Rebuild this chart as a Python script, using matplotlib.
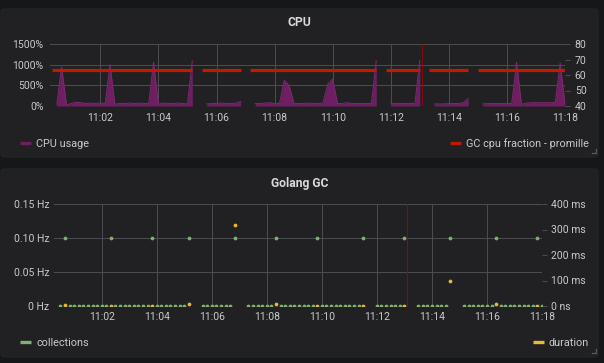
import matplotlib
matplotlib.use("Agg")
import matplotlib.pyplot as plt
from matplotlib.lines import Line2D
from matplotlib.patches import FancyBboxPatch
from matplotlib.transforms import IdentityTransform
import numpy as np

plt.rcParams['font.family'] = ['Roboto', 'DejaVu Sans']

# samples every 10 s, times as HH:MM:SS
cpu_starts = ["11:00:30", "11:05:40", "11:07:20", "11:12:00", "11:13:30", "11:15:10"]
cpu_usage = [
    [40, 950, 30, 60, 90, 80, 60, 70, 60, 70, 60, 1000, 40, 60, 60, 70, 60, 70, 60, 60,
     1060, 40, 70, 60, 60, 70, 60, 50, 1090],
    [50, 60, 60, 70, 60, 60, 70, 110],
    [60, 60, 70, 80, 60, 60, 620, 500, 60, 60, 60, 70, 60, 60, 70, 530, 650, 60, 60, 80,
     60, 60, 60, 60, 60, 1100],
    [70, 60, 60, 60, 60, 60, 1100],
    [50, 50, 50, 60, 60, 60, 80, 180],
    [50, 60, 60, 60, 60, 60, 60, 1060, 40, 70, 80, 80, 80, 80, 80, 90, 1040, 60],
]

gc_frac_starts = ["11:00:20", "11:05:30", "11:07:10", "11:11:50", "11:13:20", "11:15:00"]
gc_frac_ends = ["11:05:10", "11:06:50", "11:11:30", "11:13:00", "11:14:40", "11:18:00"]
gc_fraction = [63, 63, 63, 63, 63, 63]  # promille

gc_times = ["11:00:40", "11:02:20", "11:03:50", "11:05:10", "11:06:50", "11:08:20",
            "11:09:50", "11:11:30", "11:13:00", "11:14:40", "11:16:20", "11:17:50"]
gc_rate = 0.10  # Hz
gc_duration_ms = [4, 1, 1, 7, 318, 8, 1, 1, 1, 98, 7, 1]

annotation_time = "11:13:05"

xticks = [2, 4, 6, 8, 10, 12, 14, 16, 18]
xtick_labels = ["11:02", "11:04", "11:06", "11:08", "11:10", "11:12", "11:14", "11:16", "11:18"]
cpu_ticks = [0, 500, 1000, 1500]
cpu_labels = ["0%", "500%", "1000%", "1500%"]
frac_ticks = [40, 50, 60, 70, 80]
hz_ticks = [0, 0.05, 0.10, 0.15]
hz_labels = ["0 Hz", "0.05 Hz", "0.10 Hz", "0.15 Hz"]
ms_ticks = [0, 100, 200, 300, 400]
ms_labels = ["0 ns", "100 ms", "200 ms", "300 ms", "400 ms"]

PURPLE = '#6d1f62'
RED = '#bf1b00'
GREEN = '#7eb26d'
YELLOW = '#eab839'
GRID = '#4c4c50'
TXT = '#c8c9cb'
ANNO = '#8c0a0a'
W, H = 604, 363


def mins(s):
    h, m, sec = [int(v) for v in s.split(":")]
    return (h - 11) * 60 + m + sec / 60.0


def px_axes(l, t, r, b):
    return fig.add_axes([l / W, 1 - b / H, (r - l) / W, (b - t) / H])


def style(ax, ax2, lpad, rpad, xpad):
    for a in (ax, ax2):
        a.set_facecolor('none')
        for sp in a.spines.values():
            sp.set_visible(False)
    ax.grid(True, color=GRID, lw=0.75)
    ax.set_axisbelow(True)
    ax.set_xticks(xticks)
    ax.set_xticklabels(xtick_labels)
    ax.set_xlim(mins("11:00:16"), 18)
    ax.tick_params(axis='x', length=0, pad=xpad, labelsize=7.5, labelcolor=TXT)
    ax.tick_params(axis='y', length=0, pad=lpad, labelsize=7.5, labelcolor=TXT)
    ax2.tick_params(axis='y', length=3.6, width=0.75, color=GRID, pad=rpad,
                    labelsize=7.5, labelcolor=TXT)


fig = plt.figure(figsize=(W / 100, H / 100), dpi=100)
fig.patch.set_facecolor('#161719')

# panels
for top, bot in [(9, 157), (169, 357)]:
    fig.patches.append(FancyBboxPatch((1, H - bot), 597, bot - top,
                                      boxstyle="round,pad=0,rounding_size=3",
                                      fc='#212124', ec='#262628', lw=0.8, zorder=-10,
                                      transform=IdentityTransform(), figure=fig))
    fig.add_artist(Line2D([592, 596, 596], [H - bot + 4, H - bot + 4, H - bot + 8],
                          color='#5a5a5e', lw=0.9, transform=IdentityTransform()))

fig.text(299.5 / W, 1 - 22.5 / H, "CPU", ha='center', va='center', fontsize=8.7,
         fontweight='semibold', color='#d8d9da')
fig.text(299.5 / W, 1 - 183 / H, "Golang GC", ha='center', va='center', fontsize=8.7,
         fontweight='semibold', color='#d8d9da')

# CPU panel
ax = px_axes(50, 44, 565, 106)
ax2 = ax.twinx()
for start, vals in zip(cpu_starts, cpu_usage):
    t = mins(start) + np.arange(len(vals)) / 6.0
    ax.fill_between(t, 0, vals, color=PURPLE, lw=0, alpha=1)
    ax.plot(t, vals, color='#7a2a6e', lw=0.7)
for s, e, v in zip(gc_frac_starts, gc_frac_ends, gc_fraction):
    ax2.plot([mins(s), mins(e)], [v, v], color=RED, lw=2.3, solid_capstyle='butt')
ax2.axvline(mins(annotation_time), color=ANNO, lw=0.6)
ax.set_ylim(0, 1500)
ax.set_yticks(cpu_ticks)
ax.set_yticklabels(cpu_labels)
ax2.set_ylim(40, 80)
ax2.set_yticks(frac_ticks)
style(ax, ax2, 4.5, 3.5, 5)

# GC panel
bx = px_axes(54, 204, 542, 306)
bx2 = bx.twinx()
for start, vals in zip(cpu_starts, cpu_usage):
    t = mins(start) + np.arange(len(vals)) / 6.0
    coll = [gc_rate if any(abs(ti - mins(g)) < 0.01 for g in gc_times) else 0 for ti in t]
    bx.plot(t, coll, ls='none', marker='o', ms=2.7, mew=0, color=GREEN, zorder=4)
bx2.plot([mins(g) for g in gc_times], gc_duration_ms, ls='none', marker='o', ms=2.7,
         mew=0, color=YELLOW, zorder=3)
bx.axvline(mins(annotation_time), color='#a00000', lw=0.8, zorder=5)
bx.set_ylim(0, 0.15)
bx.set_yticks(hz_ticks)
bx.set_yticklabels(hz_labels)
bx2.set_ylim(0, 400)
bx2.set_yticks(ms_ticks)
bx2.set_yticklabels(ms_labels)
style(bx, bx2, 3.6, 3.0, 4.5)
bx.set_zorder(bx2.get_zorder() + 1)

# legends
def legend(label, color, x, y, loc):
    h = Line2D([], [], color=color, lw=2.4, solid_capstyle='butt')
    fig.legend([h], [label], loc=loc, bbox_to_anchor=(x / W, 1 - y / H), frameon=False,
               fontsize=7.8, labelcolor=TXT, handlelength=1.05, handletextpad=0.45,
               borderpad=0, borderaxespad=0)

legend("CPU usage", PURPLE, 20, 143.5, 'center left')
legend("GC cpu fraction - promille", RED, 589, 143.5, 'center right')
legend("collections", GREEN, 20, 343, 'center left')
legend("duration", YELLOW, 589, 343, 'center right')

fig.savefig("out.png", dpi=100, facecolor=fig.get_facecolor())
